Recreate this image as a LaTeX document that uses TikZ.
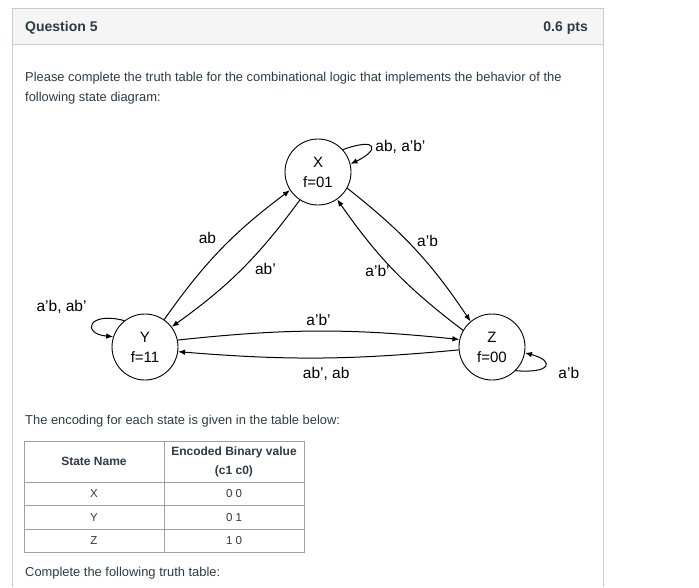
\documentclass[tikz,border=0pt]{standalone}
\usepackage{fontspec}
\setmainfont{Liberation Sans}
\usepackage{xcolor}
\usetikzlibrary{arrows.meta, positioning}

\definecolor{bodytext}{HTML}{2D3B45}
\definecolor{headerbg}{HTML}{F5F5F5}
\definecolor{panelline}{HTML}{C7CDD1}
\definecolor{tableline}{HTML}{A0A0A0}

\begin{document}
\begin{tikzpicture}[
    x=1pt, y=-1pt,
    node distance=0pt,
    headtext/.style={inner sep=0pt, text=bodytext, font=\bfseries\fontsize{14}{16}\selectfont},
    para/.style={anchor=base west, inner sep=0pt, text=bodytext, font=\fontsize{12.9}{15}\selectfont},
    state/.style={circle, draw, line width=0.9pt, minimum size=66pt, inner sep=0pt, align=center, font=\fontsize{15}{20}\selectfont},
    edgetext/.style={inner sep=1pt, font=\fontsize{15.5}{17}\selectfont},
    arrow/.style={-{Latex[length=7pt, width=5.5pt]}, line width=1pt},
    cell/.style={rectangle, draw=tableline, minimum width=140pt, minimum height=23.5pt, inner sep=0pt, outer sep=0pt, text=bodytext, font=\fontsize{11.5}{13}\selectfont},
    headcell/.style={cell, minimum height=41pt, align=center, font=\bfseries\fontsize{12}{19}\selectfont}
]
\useasboundingbox (0,0) rectangle (699,587);

% question panel
\fill[headerbg] (12,8) rectangle (603,44);
\draw[panelline] (12,587) -- (12,8) -- (603,8) -- (603,587);
\draw[panelline] (12,44) -- (603,44);

\node (qtitle) [headtext, anchor=base west] at (25,31) {Question 5};
\node (qpoints) [headtext, anchor=base east] at (588,31) {0.6 pts};

\node (intro1) [para] at (25,81.5) {Please complete the truth table for the combinational logic that implements the behavior of the};
\node (intro2) [para] at (25,101.5) {following state diagram:};

% states
\node (X) [state] at (318,172) {X\\f=01};
\node (Y) [state] at (145,347) {Y\\f=11};
\node (Z) [state] at (492,347) {Z\\f=00};

% transitions
\draw [arrow] (Y.55) to[bend left=9] node[edgetext, above left=5pt] {ab} (X.213);
\draw [arrow] (X.237) to[bend left=9] node[edgetext, right=12pt] {ab’} (Y.37);
\draw [arrow] (X.331) to[bend left=9] node[edgetext, above right=1pt] {a’b} (Z.130);
\draw [arrow] (Z.150) to[bend left=9] node[edgetext, left=3pt] {a’b’} (X.305);
\draw [arrow] (Y.12) to[bend left=6] node[edgetext, above=4pt] {a’b’} (Z.167);
\draw [arrow] (Z.185) to[bend left=5] node[edgetext, below=8pt, pos=0.47] {ab’, ab} (Y.352);

% self loops
\draw [arrow] (X.42) .. controls +(20:38pt) and +(25:32pt) .. (X.14) node[pos=0.5, edgetext, anchor=west, right=3pt] {ab, a’b’};
\draw [arrow] (Y.128) .. controls +(165:38pt) and +(175:32pt) .. (Y.162) node[pos=0.5, edgetext, above left=9pt and 5pt] {a’b, ab’};
\draw [arrow] (Z.-45) .. controls +(-5:35pt) and +(-15:32pt) .. (Z.-10) node[pos=0.5, edgetext, below right=0pt and 12pt] {a’b};

\node (enc) [para] at (25,424.5) {The encoding for each state is given in the table below:};

% encoding table
\node (hname) [headcell] at (94,461.5) {State Name};
\node (hcode) [headcell, right=of hname] {Encoded Binary value\\(c1 c0)};
\node (sx) [cell, below=of hname] {X};
\node (cx) [cell, below=of hcode] {0 0};
\node (sy) [cell, below=of sx] {Y};
\node (cy) [cell, below=of cx] {0 1};
\node (sz) [cell, below=of sy] {Z};
\node (cz) [cell, below=of cy] {1 0};

\node (done) [para] at (25,576.5) {Complete the following truth table:};

\end{tikzpicture}
\end{document}
